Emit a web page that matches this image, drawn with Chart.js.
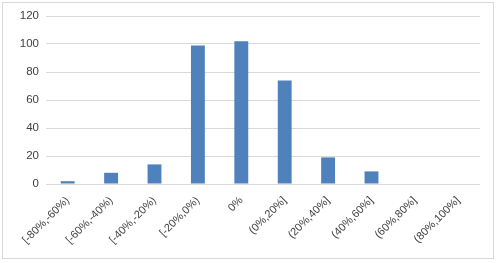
<!DOCTYPE html>
<html>
<head>
<meta charset="utf-8">
<script src="https://cdn.jsdelivr.net/npm/chart.js@4"></script>
<style>
  html, body { margin: 0; padding: 0; background: #fff; }
  #wrap { position: relative; width: 498px; height: 263px; }
</style>
</head>
<body>
<div id="wrap"><canvas id="c" width="498" height="263"></canvas></div>
<script>
const categories = ['[-80%,-60%)', '[-60%,-40%)', '[-40%,-20%)', '[-20%,0%)', '0%', '(0%,20%]', '(20%,40%]', '(40%,60%]', '(60%,80%]', '(80%,100%]'];
const counts = [2, 8, 14, 99, 102, 74, 19, 9, 0, 0];
const yTicks = [0, 20, 40, 60, 80, 100, 120];

const framePlugin = {
  id: 'frame',
  beforeDraw(chart) {
    const ctx = chart.ctx;
    ctx.save();
    ctx.fillStyle = '#ffffff';
    ctx.fillRect(0, 0, chart.width, chart.height);
    ctx.strokeStyle = '#d9d9d9';
    ctx.lineWidth = 1;
    ctx.strokeRect(2.5, 2.5, 491, 256);
    ctx.restore();
  }
};

new Chart(document.getElementById('c'), {
  type: 'bar',
  data: {
    labels: categories,
    datasets: [{
      data: counts,
      backgroundColor: '#4f81bd',
      borderWidth: 0,
      categoryPercentage: 1,
      barPercentage: 0.32
    }]
  },
  options: {
    responsive: false,
    animation: false,
    devicePixelRatio: 1,
    layout: { padding: { left: 0, right: 18, top: 16, bottom: 0 } },
    plugins: { legend: { display: false }, tooltip: { enabled: false } },
    scales: {
      x: {
        offset: true,
        grid: { display: false, drawTicks: false },
        border: { display: false },
        ticks: {
          autoSkip: false,
          minRotation: 45,
          maxRotation: 45,
          padding: 10,
          color: '#404040',
          font: { family: '"Liberation Sans", Arial, sans-serif', size: 11 }
        },
        afterFit(scale) { scale.height = 79; }
      },
      y: {
        min: 0,
        max: 120,
        afterBuildTicks(scale) { scale.ticks = yTicks.map(v => ({ value: v })); },
        grid: { color: '#d9d9d9', lineWidth: 1, drawTicks: false },
        border: { display: false },
        ticks: {
          padding: 7,
          color: '#404040',
          font: { family: '"Liberation Sans", Arial, sans-serif', size: 11.5 }
        },
        afterFit(scale) { scale.width = 46; }
      }
    }
  },
  plugins: [framePlugin]
});
</script>
</body>
</html>
